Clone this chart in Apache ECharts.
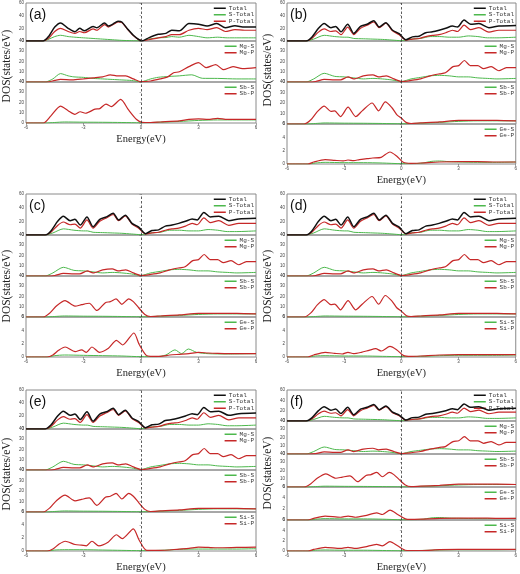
<!DOCTYPE html>
<html><head><meta charset="utf-8">
<script src="https://cdn.jsdelivr.net/npm/echarts@6/dist/echarts.min.js"></script>
<style>html,body{margin:0;padding:0;background:#fff}#c{width:520px;height:574px}</style>
</head><body><div id="c"></div>
<script>
// ---------- data: [energy (eV), DOS (states/eV)] ----------
const totalA = [[-6,0],[-5.1,0],[-4.8,8],[-4.5,22],[-4.2,28.5],[-3.8,20],[-3.45,14.5],[-3.2,20],[-2.95,16],[-2.5,23],[-2.3,21],[-1.9,28.5],[-1.7,23.5],[-1.45,27],[-1.2,31],[-1.0,30],[-0.7,19],[-0.4,9],[-0.1,2],[0.1,0.5],[0.4,5],[0.9,10.5],[1.3,12],[1.6,17],[2.0,16],[2.5,27.5],[3.0,26.5],[3.45,23.5],[3.95,27.5],[4.4,21],[4.9,24],[5.4,22],[6,22]];
const pTotA = [[-6,0],[-5.1,0],[-4.8,5],[-4.5,15],[-4.2,20],[-3.8,15],[-3.45,12],[-3.2,15],[-2.95,13],[-2.5,19],[-2.3,17],[-1.9,26],[-1.7,22],[-1.45,26],[-1.2,30],[-1.0,29],[-0.7,18.5],[-0.4,8.5],[-0.1,1.8],[0.1,0.4],[0.4,2],[0.9,5],[1.3,7],[1.6,10],[2.0,10],[2.5,17],[3.0,20],[3.45,18],[3.95,21],[4.4,15],[4.9,18],[5.4,17],[6,17]];
const sTotA = [[-6,0],[-5.1,0],[-4.8,3],[-4.5,7],[-4.2,9],[-3.8,7],[-3.45,6],[-3.0,5],[-2.5,4],[-2.0,3],[-1.5,2],[-1.0,1],[-0.5,0.5],[0,0.2],[0.4,3],[0.9,5],[1.3,5.5],[1.6,7],[2.0,6],[2.5,9],[3.0,7],[3.45,5],[4.0,6],[4.5,5],[5.0,5],[6,5]];
const mgSA = [[-6,0],[-5.0,0],[-4.6,3],[-4.2,8.2],[-3.8,6],[-3.5,5],[-3.0,4.5],[-2.5,3.5],[-2.0,3],[-1.5,2.5],[-1.0,2],[-0.5,1.5],[0,0.3],[0.5,3],[0.9,4.6],[1.45,5.4],[2.0,6],[2.65,7],[3.2,3.6],[4.0,3.5],[5.0,3],[6,3]];
const mgPA = [[-6,0],[-4.9,0],[-4.5,1.5],[-4.2,2.5],[-3.6,2],[-3.0,3],[-2.5,4],[-2.0,5],[-1.6,7],[-1.2,6],[-0.8,6],[-0.4,3],[0,0.3],[0.5,1],[1.0,3],[1.4,5],[1.7,9],[2.0,10],[2.5,15],[3.0,19],[3.4,14],[3.9,17],[4.3,12],[4.8,15],[5.3,13],[6,14]];
const sbS = [[-6,0],[-5.0,0],[-4.5,0.5],[-4.0,1],[-3.0,0.8],[-2.0,0.7],[-1.0,0.5],[0,0.2],[1.0,0.8],[2.0,1.5],[3.0,2.5],[4.0,3],[5.0,3],[6,3]];
const sbPA = [[-6,0],[-5.1,0],[-4.7,7],[-4.2,16.5],[-3.8,12],[-3.45,8.5],[-3.17,11],[-2.9,9.5],[-2.4,13.5],[-2.15,14],[-1.83,18.5],[-1.55,16],[-1.06,23],[-0.66,13],[-0.23,3.4],[0.05,0.7],[0.5,0.5],[1.0,1],[2.0,2],[2.5,3.5],[3.0,4],[3.5,3.5],[4.0,4.5],[4.5,3.5],[5.0,3.5],[6,3.5]];

const totalB = [[-6,0],[-5.0,0],[-4.7,6],[-4.35,20],[-4.05,27.5],[-3.7,21],[-3.45,23],[-3.17,14.5],[-2.82,26.5],[-2.5,12],[-2.15,23],[-1.8,26.5],[-1.45,32],[-1.17,22],[-0.82,29],[-0.47,17],[-0.12,11.5],[0.23,2],[0.57,6.5],[0.92,7.5],[1.27,13],[1.62,14.5],[1.97,17],[2.32,20],[2.67,23.5],[2.93,22],[3.28,33],[3.62,26.5],[4.06,27.5],[4.58,21],[5.1,23.5],[6,24.5]];
const pTotB = [[-6,0],[-5.0,0],[-4.7,4],[-4.35,14],[-4.05,19],[-3.7,15],[-3.45,16],[-3.17,10],[-2.82,22],[-2.5,10],[-2.15,20],[-1.8,25],[-1.45,30],[-1.17,21],[-0.82,28],[-0.47,16],[-0.12,10],[0.23,1.5],[0.57,3],[0.92,4],[1.27,7],[1.62,9],[1.97,10],[2.32,13],[2.67,17],[2.93,15],[3.28,25],[3.62,18],[4.06,21],[4.58,14],[5.1,17],[6,17]];
const sTotB = [[-6,0],[-5.0,0],[-4.6,3],[-4.05,9],[-3.5,7],[-3.0,6],[-2.8,6],[-2.5,4],[-2.0,3.5],[-1.5,3],[-1.0,2.5],[-0.5,1.5],[0,0.5],[0.5,3],[1.0,4],[1.5,7],[2.0,7],[2.5,6],[3.0,6],[3.5,8],[4.0,7],[4.5,5],[5.0,5],[6,6]];
const mgSB = [[-6,0],[-5.0,0],[-4.6,3],[-4.05,8.5],[-3.5,5.5],[-3.0,5],[-2.5,4],[-2.0,3],[-1.5,3.5],[-1.0,3],[-0.5,2],[0,0.5],[0.5,3],[1.0,4.5],[1.5,6],[2.0,6.5],[2.5,6],[3.0,5],[3.5,5],[4.0,4],[4.5,3.5],[5.0,3],[6,3.5]];
const mgPB = [[-6,0],[-4.9,0],[-4.5,0.5],[-4.05,2.5],[-3.5,2],[-3.2,2],[-2.8,5],[-2.5,3],[-2.0,6],[-1.5,7],[-1.2,5],[-0.8,6],[-0.4,3],[0,0.5],[0.5,1.5],[1.0,3],[1.5,6],[2.0,8],[2.3,9],[2.7,15],[3.0,16],[3.3,21],[3.6,16],[4.0,16],[4.3,13],[4.7,15],[5.1,11],[5.5,14],[6,14]];
const sbPB = [[-6,0],[-5.1,0],[-4.75,4],[-4.4,12],[-4.05,17],[-3.7,12],[-3.5,12.5],[-3.2,7],[-2.8,16],[-2.4,7],[-2.06,12.5],[-1.54,20],[-1.2,12.5],[-0.85,21],[-0.5,15.5],[-0.25,9],[0.0,5.5],[0.26,1.3],[0.5,0.5],[1.0,1],[2.0,2],[3.0,3.5],[4.0,3.5],[5.0,3.5],[6,3]];
const sbPC = [[-6,0],[-5.1,0],[-4.75,4],[-4.4,11],[-3.96,16],[-3.6,12],[-3.44,10.6],[-3.1,12],[-2.7,13.4],[-2.3,6.4],[-1.86,14],[-1.6,15],[-1.3,17.7],[-1.0,12.4],[-0.64,17.7],[-0.4,15],[-0.12,9],[0.2,2.5],[0.5,0.5],[1.0,1],[2.0,2],[3.0,3.5],[4.0,3.5],[5.0,3.5],[6,3]];

const geP_b = [[-6,0],[-4.9,0],[-4.6,0.3],[-4.0,0.66],[-3.5,0.55],[-3.05,0.46],[-2.8,0.6],[-2.5,0.5],[-2.2,0.66],[-1.8,0.8],[-1.5,0.9],[-1.06,1.0],[-0.6,1.8],[-0.25,1.2],[0.1,0.25],[0.5,0.1],[1.0,0.15],[2.0,0.3],[3.0,0.35],[4.0,0.35],[5.0,0.3],[6,0.3]];
const geS_b = [[-6,0],[-4.9,0],[-4.5,0.15],[-4.0,0.25],[-3.0,0.2],[-2.0,0.2],[-1.0,0.15],[0,0.05],[1.0,0.1],[1.6,0.4],[2.0,0.45],[2.5,0.35],[3.0,0.3],[4.0,0.25],[5.0,0.25],[6,0.3]];
const geP_c = [[-6,0],[-4.9,0],[-4.6,0.3],[-4.3,1.0],[-3.96,1.5],[-3.44,0.8],[-3.1,1.07],[-2.85,0.7],[-2.56,1.5],[-2.17,0.7],[-1.7,1.3],[-1.28,2.5],[-0.96,1.8],[-0.37,3.6],[-0.1,1.9],[0.26,0.27],[0.5,0.1],[1.0,0.1],[1.5,0.3],[2.0,0.4],[2.5,0.5],[3.0,0.7],[3.5,0.6],[4.0,0.55],[5.0,0.5],[6,0.5]];
const geS_c = [[-6,0],[-4.9,0],[-4.5,0.2],[-4.0,0.3],[-3.0,0.25],[-2.0,0.2],[-1.0,0.15],[0,0.05],[0.8,0.05],[1.3,0.3],[1.77,1.07],[2.12,0.5],[2.47,1.2],[2.9,0.7],[3.5,0.5],[4.5,0.45],[6,0.5]];
const siP_d = [[-6,0],[-4.9,0],[-4.6,0.3],[-4.0,0.7],[-3.5,0.55],[-3.1,0.45],[-2.8,0.7],[-2.5,0.5],[-2.1,0.7],[-1.7,1.0],[-1.35,1.25],[-1.05,0.9],[-0.6,1.6],[-0.25,1.1],[0.1,0.25],[0.5,0.1],[1.0,0.15],[2.0,0.3],[3.0,0.35],[4.0,0.35],[5.0,0.35],[6,0.35]];
const siS_d = [[-6,0],[-4.9,0],[-4.5,0.15],[-4.0,0.2],[-3.0,0.15],[-2.0,0.15],[-1.0,0.1],[0,0.05],[1.0,0.1],[2.0,0.2],[3.0,0.25],[4.0,0.25],[5.0,0.25],[6,0.3]];
const siP_e = [[-6,0],[-4.9,0],[-4.6,0.3],[-4.3,1.0],[-3.96,1.5],[-3.44,1.0],[-3.1,0.9],[-2.85,0.8],[-2.56,1.5],[-2.2,0.8],[-1.7,1.4],[-1.28,2.5],[-0.98,1.9],[-0.4,3.4],[-0.1,1.7],[0.3,0.1],[1.0,0.1],[2.0,0.3],[2.5,0.4],[3.0,0.6],[3.5,0.55],[4.0,0.5],[5.0,0.55],[6,0.6]];
const siS_e = [[-6,0],[-4.9,0],[-4.5,0.15],[-4.0,0.2],[-3.0,0.2],[-2.0,0.15],[-1.0,0.1],[0,0.05],[1.0,0.1],[2.0,0.25],[3.0,0.3],[4.0,0.3],[5.0,0.3],[6,0.35]];
const geP_f = [[-6,0],[-4.9,0],[-4.6,0.3],[-4.0,0.7],[-3.2,0.5],[-2.8,0.7],[-2.4,0.5],[-1.9,0.8],[-1.3,1.3],[-1.0,1.0],[-0.6,1.8],[-0.2,1.0],[0.2,0.2],[0.5,0.1],[1.0,0.15],[2.0,0.3],[3.0,0.35],[4.0,0.35],[5.0,0.3],[6,0.3]];
const siP_f = [[-6,0],[-4.9,0],[-4.6,0.3],[-4.0,0.7],[-3.2,0.5],[-2.8,0.7],[-2.4,0.5],[-1.9,0.8],[-1.3,1.3],[-1.0,1.0],[-0.6,1.8],[-0.2,1.0],[0.2,0.15],[0.5,0.1],[1.0,0.1],[2.0,0.25],[3.0,0.3],[4.0,0.3],[5.0,0.3],[6,0.3]];

const xTicks = [-6, -3, 0, 3, 6];
const panelLabels = ['(a)', '(b)', '(c)', '(d)', '(e)', '(f)'];

// ---------- layout ----------
const COL = { k: '#111111', g: '#4db84d', r: '#c62828' };
const WID = { k: 1.5, g: 1.0, r: 1.2 };
const layout = [
  { left: 26, right: 256, edges: [3, 41, 82, 123], dosY: 66 },
  { left: 287, right: 516, edges: [3, 41, 82, 124, 164], dosY: 70 },
  { left: 26, right: 256, edges: [194, 235, 276, 317, 357], dosY: 286 },
  { left: 287, right: 516, edges: [194, 235, 276, 317, 357], dosY: 286 },
  { left: 26, right: 256, edges: [390, 429, 470, 512, 551], dosY: 474 },
  { left: 287, right: 516, edges: [390, 421, 454, 487, 520, 552], dosY: 473 }
];
const T = (a, b, c) => [['S-Total', b, 'g'], ['P-Total', c, 'r'], ['Total', a, 'k']];
const P = (n, s, p) => [[n + '-S', s, 'g'], [n + '-P', p, 'r']];
const content = [
  [T(totalA, sTotA, pTotA), P('Mg', mgSA, mgPA), P('Sb', sbS, sbPA)],
  [T(totalB, sTotB, pTotB), P('Mg', mgSB, mgPB), P('Sb', sbS, sbPB), P('Ge', geS_b, geP_b)],
  [T(totalB, sTotB, pTotB), P('Mg', mgSB, mgPB), P('Sb', sbS, sbPC), P('Ge', geS_c, geP_c)],
  [T(totalB, sTotB, pTotB), P('Mg', mgSB, mgPB), P('Sb', sbS, sbPB), P('Si', siS_d, siP_d)],
  [T(totalB, sTotB, pTotB), P('Mg', mgSB, mgPB), P('Sb', sbS, sbPC), P('Si', siS_e, siP_e)],
  [T(totalB, sTotB, pTotB), P('Mg', mgSB, mgPB), P('Sb', sbS, sbPC), P('Ge', geS_b, geP_f), P('Si', siS_d, siP_f)]
];

const grid = [], xAxis = [], yAxis = [], series = [], legend = [], title = [], graphic = [];
let gi = 0;
layout.forEach((L, pi) => {
  const subs = content[pi];
  subs.forEach((curves, si) => {
    const top = L.edges[si], h = L.edges[si + 1] - top;
    const isBottom = si === subs.length - 1;
    const isTot = curves[2] && curves[2][0] === 'Total';
    const isSmall = /^(Ge|Si)/.test(curves[0][0]);
    const ymax = isTot ? 60 : (isSmall ? 6 : 40);
    const yint = isTot ? 20 : (isSmall ? 2 : 10);
    grid.push({ left: L.left, top: top, width: L.right - L.left, height: h, show: true, borderColor: '#8a8a8a', borderWidth: 1, backgroundColor: 'transparent' });
    xAxis.push({
      gridIndex: gi, type: 'value', min: -6, max: 6, interval: 3,
      axisLine: { show: false }, splitLine: { show: false },
      axisTick: { show: isBottom, length: 2, lineStyle: { color: '#666', width: 0.6 } },
      axisLabel: { show: isBottom, fontSize: 4.5, color: '#444', margin: 2,
        formatter: v => xTicks.includes(v) ? String(v) : '' },
      name: isBottom ? 'Energy(eV)' : '', nameLocation: 'middle', nameGap: 11,
      nameTextStyle: { fontFamily: 'Liberation Serif', fontSize: 10.5, color: '#222' }
    });
    yAxis.push({
      gridIndex: gi, type: 'value', min: 0, max: ymax, interval: yint,
      axisLine: { show: false }, splitLine: { show: false },
      axisTick: { show: true, length: 1.5, lineStyle: { color: '#666', width: 0.5 } },
      axisLabel: { fontSize: 4.5, color: '#444', margin: 2 }
    });
    curves.forEach((c, ci) => {
      const s = {
        type: 'line', name: c[0], xAxisIndex: gi, yAxisIndex: gi, data: c[1],
        showSymbol: false, symbol: 'none', smooth: 0.25, animation: false,
        lineStyle: { color: COL[c[2]], width: WID[c[2]] }, itemStyle: { color: COL[c[2]] },
        z: 2 + ci
      };
      if (ci === 0) {
        s.markLine = { silent: true, symbol: ['none', 'none'], label: { show: false }, animation: false,
          lineStyle: { type: [2.5, 2], color: '#333', width: 0.8 }, data: [{ xAxis: 0 }] };
      }
      series.push(s);
    });
    const names = isTot ? ['Total', 'S-Total', 'P-Total'] : [curves[0][0], curves[1][0]];
    legend.push({
      orient: 'vertical', right: 520 - L.right + 2, top: top + 2, data: names,
      icon: 'rect', itemWidth: 12, itemHeight: 1.5, itemGap: 0, padding: 0, selectedMode: false,
      textStyle: { fontFamily: 'Liberation Mono', fontSize: 6, color: '#333', lineHeight: 6.5, padding: [0, 0, 0, -2] }
    });
    gi++;
  });
  title.push({ text: panelLabels[pi], left: L.left + 3, top: L.edges[0] + 5, padding: 0,
    textStyle: { fontFamily: 'Liberation Sans', fontSize: 14, fontWeight: 'normal', color: '#111' } });
  graphic.push({ type: 'text', x: L.left - 19, y: L.dosY, rotation: Math.PI / 2,
    style: { text: 'DOS(states/eV)', x: 0, y: 0, align: 'center', verticalAlign: 'middle',
      textAlign: 'center', textVerticalAlign: 'middle', font: '11.5px "Liberation Serif"', fill: '#222' } });
});

const chart = echarts.init(document.getElementById('c'), null, { renderer: 'canvas' });
chart.setOption({ backgroundColor: '#fff', animation: false, title, grid, xAxis, yAxis, series, legend, graphic });
</script></body></html>
